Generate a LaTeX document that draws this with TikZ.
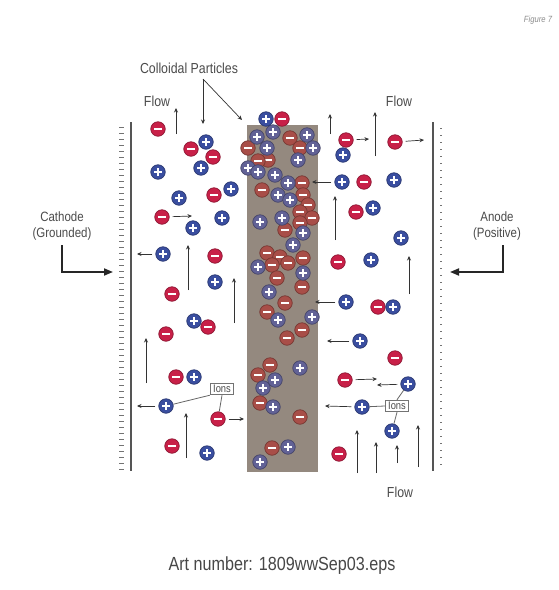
\documentclass[tikz,border=0pt]{standalone}
\usepackage{fontspec}
\setmainfont{Liberation Sans}[FakeStretch=0.85]
\usetikzlibrary{arrows.meta}
\definecolor{ionred}{RGB}{200,32,72}
\definecolor{ionblue}{RGB}{58,78,160}
\definecolor{bandred}{RGB}{168,78,72}
\definecolor{bandblue}{RGB}{98,98,150}
\definecolor{bandfill}{RGB}{148,137,127}
\definecolor{txt}{RGB}{75,75,75}
\definecolor{elec}{RGB}{85,85,85}
\tikzset{
  ionball/.style={circle, minimum size=14.5pt, inner sep=0pt, line width=0.7pt, draw=#1!70!black, fill=#1},
  minusmark/.style={path picture={\fill[white] ([shift={(-3.6pt,-1pt)}]path picture bounding box.center) rectangle ([shift={(3.6pt,1pt)}]path picture bounding box.center);}},
  plusmark/.style={path picture={\fill[white] ([shift={(-3.6pt,-0.9pt)}]path picture bounding box.center) rectangle ([shift={(3.6pt,0.9pt)}]path picture bounding box.center);
     \fill[white] ([shift={(-0.9pt,-3.6pt)}]path picture bounding box.center) rectangle ([shift={(0.9pt,3.6pt)}]path picture bounding box.center);}},
  negion/.style={ionball=ionred, minusmark},
  posion/.style={ionball=ionblue, plusmark},
  bnegion/.style={ionball=bandred, minusmark},
  bposion/.style={ionball=bandblue, plusmark},
  arr/.style={-{Stealth[length=4.5pt,width=4pt]}, line width=0.7pt, draw=black!80},
  ionarr/.style={arr, shorten <=3pt},
  bigarr/.style={-{Triangle[length=9pt,width=7pt]}, line width=1.8pt, draw=black!85},
  lbl/.style={text=txt, font=\fontsize{14.5}{16}\selectfont, inner sep=1pt},
  sidelbl/.style={text=txt, font=\fontsize{13.5}{17}\selectfont, inner sep=1pt, align=center},
  ionbox/.style={draw=black!55, fill=white, line width=0.8pt, text=txt, font=\fontsize{11}{12}\selectfont, inner xsep=3pt, inner ysep=2pt},
  linkline/.style={draw=black!60, line width=0.8pt},
}
\begin{document}
\begin{tikzpicture}[x=1pt,y=-1pt]
\useasboundingbox (0,0) rectangle (558,590);
\fill[white] (0,0) rectangle (558,590);

% colloidal band
\fill[bandfill] (247,125) rectangle (318,472);

% electrodes
\draw[elec, line width=2.4pt] (131,122) -- (131,471);
\foreach \y in {127,133,...,469} \draw[black!55, line width=0.8pt] (119,\y) -- (124,\y);
\draw[elec, line width=2.4pt] (433,122) -- (433,471);
\foreach \y in {128,135,...,469} \draw[black!55, line width=0.9pt] (440,\y) -- (442,\y);

% texts
\node[text=black!45, font=\fontsize{9}{10}\selectfont\itshape] (fig) at (538,20) {Figure 7};
\node[lbl] (coll) at (189,68) {Colloidal Particles};
\node[lbl] (flowl) at (157,101) {Flow};
\node[lbl] (flowr) at (399,101) {Flow};
\node[lbl] (flowb) at (400,492) {Flow};
\node[sidelbl] (cath) at (62,226) {Cathode\\(Grounded)};
\node[sidelbl] (anod) at (497,226) {Anode\\(Positive)};
\node[text=black!72, font=\fontsize{19}{22}\selectfont] (art) at (282,566) {Art number: 1809wwSep03.eps};

% colloidal pointers
\coordinate (cp) at (203,79);
\coordinate (cpa) at (203,124);
\coordinate (cpb) at (242,120);
\draw[arr] (cp) -- (cpa);
\draw[arr] (cp) -- (cpb);

% electrode bent arrows
\coordinate (cathtip) at (113,272);
\coordinate (cathtop) at (62,245);
\draw[bigarr] (cathtop) |- (cathtip);
\coordinate (anodtip) at (450,272);
\coordinate (anodtop) at (503,245);
\draw[bigarr] (anodtop) |- (anodtip);

% flow arrows
\foreach \x/\ya/\yb [count=\i] in {176/134/108, 188/290/245, 234/323/278, 146/383/338, 186/458/413,
    330/134/114, 375/156/112, 335/240/196, 409/294/256, 357/473/430, 376/473/442, 397/463/445, 418/467/425} {
  \coordinate (fa\i) at (\x,\ya);
  \coordinate (fb\i) at (\x,\yb);
  \draw[arr] (fa\i) -- (fb\i);
}

% band ions
\foreach \x/\y [count=\i] in {290/138, 248/148, 300/148, 268/160, 258/161, 302/183, 262/190, 303/195, 308/205, 300/212,
   312/218, 285/230, 300/223, 267/253, 280/257, 303/258, 272/265, 288/263, 277/278, 302/287, 285/303, 267/312,
   302/330, 287/338, 270/365, 258/375, 260/403, 300/417, 272/448}
  \node[bnegion] (bn\i) at (\x,\y) {};
\foreach \x/\y [count=\i] in {257/137, 273/132, 307/135, 313/148, 267/148, 298/160, 248/168, 258/172, 275/175, 288/183,
   278/195, 290/200, 282/218, 260/222, 303/233, 293/245, 258/267, 303/273, 269/292, 278/320, 312/317,
   300/368, 275/380, 263/388, 273/407, 288/447, 260/462}
  \node[bposion] (bp\i) at (\x,\y) {};

% free ions
\foreach \x/\y [count=\i] in {158/129, 191/149, 213/157, 214/195, 215/256, 172/294, 208/327, 166/334, 176/377, 172/446,
   282/119, 364/182, 356/212, 338/262, 378/307, 395/358, 339/454}
  \node[negion] (n\i) at (\x,\y) {};
\foreach \x/\y [count=\i] in {206/142, 158/172, 201/168, 231/189, 179/198, 193/228, 222/218, 215/282, 194/321, 194/377, 207/453,
   266/119, 343/155, 394/180, 373/208, 401/238, 371/260, 393/307, 392/431}
  \node[posion] (p\i) at (\x,\y) {};

% ions with drift arrows
\node[negion] (m1) at (162,217) {};  \coordinate (m1t) at (192,216); \draw[ionarr] (m1) -- (m1t);
\node[posion] (q1) at (163,254) {};  \coordinate (q1t) at (137,254); \draw[ionarr] (q1) -- (q1t);
\node[posion] (q2) at (166,406) {};  \coordinate (q2t) at (137,406); \draw[ionarr] (q2) -- (q2t);
\node[negion] (m2) at (218,419) {};  \coordinate (m2t) at (244,419); \draw[ionarr] (m2) -- (m2t);
\node[negion] (m3) at (346,140) {};  \coordinate (m3t) at (369,139); \draw[ionarr] (m3) -- (m3t);
\node[negion] (m4) at (395,142) {};  \coordinate (m4t) at (424,140); \draw[ionarr] (m4) -- (m4t);
\node[posion] (q3) at (342,182) {};  \coordinate (q3t) at (312,182); \draw[ionarr] (q3) -- (q3t);
\node[posion] (q4) at (346,302) {};  \coordinate (q4t) at (315,302); \draw[ionarr] (q4) -- (q4t);
\node[posion] (q5) at (360,341) {};  \coordinate (q5t) at (327,341); \draw[ionarr] (q5) -- (q5t);
\node[negion] (m5) at (345,380) {};  \coordinate (m5t) at (377,379); \draw[ionarr] (m5) -- (m5t);
\node[posion] (q6) at (408,384) {};  \coordinate (q6t) at (377,385); \draw[ionarr] (q6) -- (q6t);
\node[posion] (q7) at (362,407) {};  \coordinate (q7t) at (325,406); \draw[ionarr] (q7) -- (q7t);

% Ions labels
\node[ionbox] (ionsl) at (222,389) {Ions};
\draw[linkline] (q2) -- (ionsl.south west);
\draw[linkline] (ionsl.south) -- (m2);
\node[ionbox] (ionsr) at (397,406) {Ions};
\draw[linkline] (q7) -- (ionsr.west);
\draw[linkline] (ionsr.north) -- (q6);
\draw[linkline] (ionsr.south) -- (p19);
\end{tikzpicture}
\end{document}
